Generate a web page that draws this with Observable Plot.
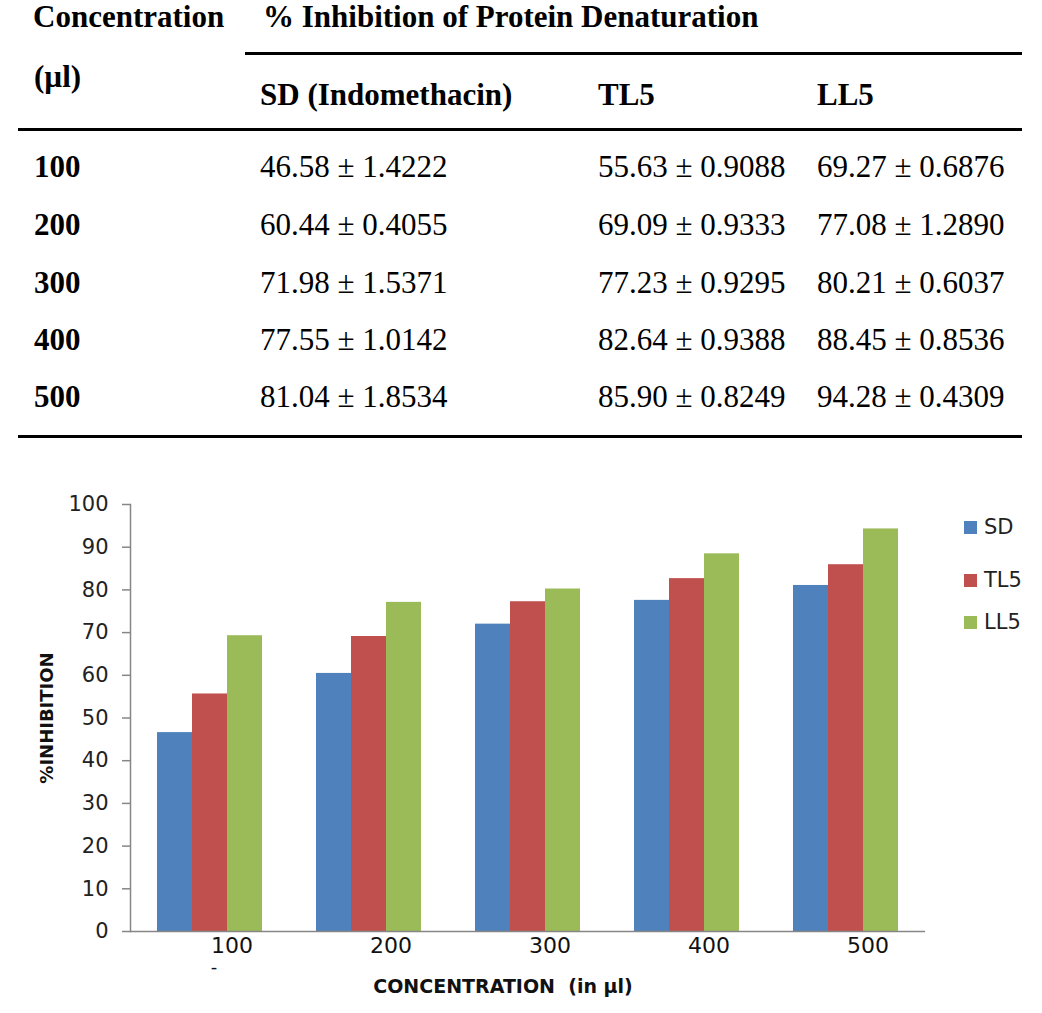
<!DOCTYPE html>
<html>
<head>
<meta charset="utf-8">
<script src="https://cdn.jsdelivr.net/npm/d3@7"></script>
<script src="https://cdn.jsdelivr.net/npm/@observablehq/plot@0.6"></script>
<style>
  html, body { margin: 0; padding: 0; background: #fff; }
  #page { position: relative; width: 1042px; height: 1013px; overflow: hidden; }
  .cell { position: absolute; font-family: "Liberation Serif", "Times New Roman", serif; font-size: 31px; line-height: 31px; color: #000; white-space: nowrap; }
  .bold { font-weight: bold; }
  .hline { position: absolute; background: #000; height: 3px; }
  #chart { position: absolute; left: 0; top: 470px; }
  #legend { position: absolute; left: 964px; top: 0; font-family: "DejaVu Sans", sans-serif; font-size: 21px; color: #222; }
  .key { position: absolute; left: 0; white-space: nowrap; display: flex; align-items: center; }
  .swatch { width: 13px; height: 13px; margin-right: 7px; display: inline-block; }
</style>
</head>
<body>
<div id="page">
  <div id="table"></div>
  <div id="chart"></div>
  <div id="legend"></div>
</div>
<script>
// Concentrations tested (µl)
const concentrations = [100, 200, 300, 400, 500];

// Series names used in the chart and the table headings
const seriesNames = ["SD", "TL5", "LL5"];
const seriesHeaders = ["SD (Indomethacin)", "TL5", "LL5"];
const seriesColors = ["#4F81BD", "#C0504D", "#9BBB59"];

// % inhibition of protein denaturation, mean ± error
const sdMean = [46.58, 60.44, 71.98, 77.55, 81.04];
const sdErr = [1.4222, 0.4055, 1.5371, 1.0142, 1.8534];
const tl5Mean = [55.63, 69.09, 77.23, 82.64, 85.90];
const tl5Err = [0.9088, 0.9333, 0.9295, 0.9388, 0.8249];
const ll5Mean = [69.27, 77.08, 80.21, 88.45, 94.28];
const ll5Err = [0.6876, 1.2890, 0.6037, 0.8536, 0.4309];

// Axis ticks and titles
const yTicks = [0, 10, 20, 30, 40, 50, 60, 70, 80, 90, 100];
const yTitle = "%INHIBITION";
const xTitle = "CONCENTRATION  (in µl)";
const firstTickMark = "-";
const tableTitle = "% Inhibition of Protein Denaturation";
const concHeader = ["Concentration", "(µl)"];

const means = [sdMean, tl5Mean, ll5Mean];
const errs = [sdErr, tl5Err, ll5Err];

// ---------- Table ----------
const table = document.getElementById("table");
function cell(text, left, baseline, bold) {
  const d = document.createElement("div");
  d.className = "cell" + (bold ? " bold" : "");
  d.textContent = text;
  d.style.left = left + "px";
  d.style.top = (baseline - 27) + "px";
  table.appendChild(d);
}
function rule(left, right, y) {
  const d = document.createElement("div");
  d.className = "hline";
  d.style.left = left + "px";
  d.style.width = (right - left) + "px";
  d.style.top = (y - 1.5) + "px";
  table.appendChild(d);
}
const colLeft = [260, 598, 817];
cell(concHeader[0], 33, 28, true);
cell(tableTitle, 263, 28, true);
rule(245, 1022, 53.5);
cell(concHeader[1], 34, 88, true);
seriesHeaders.forEach((h, j) => cell(h, colLeft[j], 106, true));
rule(18, 1022, 129.5);
const rowBase = [178, 236, 294, 351, 408];
concentrations.forEach((c, i) => {
  cell(String(c), 34, rowBase[i], true);
  means.forEach((m, j) => cell(`${m[i].toFixed(2)} ± ${errs[j][i].toFixed(4)}`, colLeft[j], rowBase[i], false));
});
rule(18, 1022, 436);

// ---------- Grouped bar chart ----------
const rows = concentrations.flatMap((c, i) =>
  seriesNames.map((s, j) => ({conc: c, series: s, value: means[j][i]}))
);
const axisGray = "#868686";

const chart = Plot.plot({
  width: 1042,
  height: 540,
  marginLeft: 128,
  marginRight: 115,
  marginTop: 34,
  marginBottom: 79,
  style: {fontFamily: "DejaVu Sans, sans-serif", background: "transparent"},
  fx: {domain: concentrations, padding: 0},
  x: {domain: seriesNames, paddingInner: 0, paddingOuter: 0.75, axis: null},
  y: {domain: [0, 100]},
  color: {domain: seriesNames, range: seriesColors},
  marks: [
    Plot.barY(rows, {fx: "conc", x: "series", y: "value", fill: "series"}),
    Plot.ruleY([0], {stroke: axisGray, strokeWidth: 1.5}),
    Plot.frame({anchor: "left", stroke: axisGray, strokeWidth: 1.5, facetAnchor: "left"}),
    Plot.axisY({ticks: yTicks, tickSize: 8, tickPadding: 14, label: null, stroke: axisGray, fill: "#222", fontSize: 21, strokeWidth: 1.5}),
    Plot.axisFx({anchor: "bottom", tickSize: 0, tickPadding: 6, label: null, dx: 22, fontSize: 22, fill: "#111"}),
    Plot.text([firstTickMark], {text: d => d, fx: () => concentrations[0], frameAnchor: "bottom", lineAnchor: "middle",
      dx: 4, dy: 36, fontSize: 18, fill: "#111"}),
    Plot.text([yTitle], {text: d => d, frameAnchor: "left", textAnchor: "middle", lineAnchor: "middle", rotate: -90, dx: -83,
      facetAnchor: "left", fontWeight: "bold", fontSize: 18, fill: "#111"}),
    Plot.text([xTitle], {text: d => d, fx: () => concentrations[2], frameAnchor: "bottom", lineAnchor: "middle", dy: 55, dx: -25,
      fontWeight: "bold", fontSize: 19, fill: "#111"})
  ]
});
document.getElementById("chart").appendChild(chart);

// ---------- Legend ----------
const legend = document.getElementById("legend");
const keyCenters = [527, 580, 622];
seriesNames.forEach((s, j) => {
  const k = document.createElement("div");
  k.className = "key";
  k.style.top = (keyCenters[j] - 12) + "px";
  k.style.height = "24px";
  const sw = document.createElement("span");
  sw.className = "swatch";
  sw.style.background = seriesColors[j];
  k.appendChild(sw);
  k.appendChild(document.createTextNode(s));
  legend.appendChild(k);
});
</script>
</body>
</html>
